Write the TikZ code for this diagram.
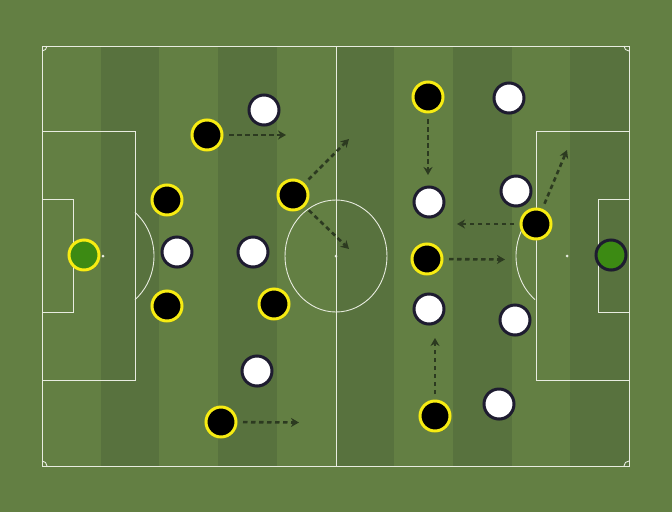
\documentclass[tikz,border=0pt]{standalone}
\usetikzlibrary{arrows.meta,shadows}
\definecolor{grassA}{HTML}{637F43}
\definecolor{grassB}{HTML}{58723E}
\definecolor{lineC}{HTML}{E8ECE0}
\definecolor{arrC}{HTML}{2C3A20}
\definecolor{yel}{HTML}{F7EC12}
\definecolor{navy}{HTML}{1E1C30}
\definecolor{gkg}{HTML}{3C8A13}
\tikzset{
  pline/.style={draw=lineC, line width=0.9pt},
  pl/.style={circle, inner sep=0pt, minimum size=30pt, line width=3pt,
    drop shadow={shadow xshift=0.8pt, shadow yshift=-1.5pt, opacity=0.25, fill=black}},
  blk/.style={pl, fill=black, draw=yel},
  wht/.style={pl, fill=white, draw=navy},
  gkl/.style={pl, fill=gkg, draw=yel},
  gkr/.style={pl, fill=gkg, draw=navy},
  arr/.style={draw=arrC, line width=2.6pt, dash pattern=on 4.5pt off 3.5pt,
    -{Stealth[length=8pt,width=9pt,inset=2.5pt]}, shorten <=5.5pt},
}
\begin{document}
\begin{tikzpicture}[x=1pt,y=-1pt]
\useasboundingbox (0,0) rectangle (672,512);
\fill[grassA] (0,0) rectangle (672,512);
\foreach \i in {1,3,5,7,9}
  \fill[grassB] ({42+\i*58.7},46) rectangle ({42+(\i+1)*58.7},466);
% pitch lines
\draw[pline] (42,46) rectangle (629,466);
\draw[pline] (336,46) -- (336,466);
\draw[pline] (336,256) ellipse [x radius=51, y radius=56];
\draw[pline] (42,131) rectangle (135,380);
\draw[pline] (42,199) rectangle (73,312);
\draw[pline] (629,131) rectangle (536,380);
\draw[pline] (629,199) rectangle (598,312);
\draw[pline] (103,256) ++(-51.14:51 and 56) arc[start angle=-51.14, end angle=51.14, x radius=51, y radius=56];
\draw[pline] (567,256) ++(128.86:51 and 56) arc[start angle=128.86, end angle=231.14, x radius=51, y radius=56];
\fill[lineC] (336,256) circle (1.5pt);
\fill[lineC] (103,256) circle (1.5pt);
\fill[lineC] (567,256) circle (1.5pt);
% corner arcs
\draw[pline] (47,46) arc[start angle=0, end angle=90, radius=5];
\draw[pline] (624,46) arc[start angle=180, end angle=90, radius=5];
\draw[pline] (47,466) arc[start angle=0, end angle=-90, radius=5];
\draw[pline] (624,466) arc[start angle=180, end angle=270, radius=5];
% white team
\node[wht] (w1) at (264,110) {};
\node[wht] (w2) at (177,252) {};
\node[wht] (w3) at (253,252) {};
\node[wht] (w4) at (257,371) {};
\node[wht] (w5) at (509,98) {};
\node[wht] (w6) at (429,202) {};
\node[wht] (w7) at (516,191) {};
\node[wht] (w8) at (429,309) {};
\node[wht] (w9) at (515,320) {};
\node[wht] (w10) at (499,404) {};
\node[gkr] (wg) at (611,255) {};
% black team
\node[gkl] (bg) at (84,255) {};
\node[blk] (b1) at (207,135) {};
\node[blk] (b2) at (167,200) {};
\node[blk] (b3) at (293,195) {};
\node[blk] (b4) at (167,306) {};
\node[blk] (b5) at (274,304) {};
\node[blk] (b6) at (221,422) {};
\node[blk] (b7) at (428,97) {};
\node[blk] (b8) at (427,259) {};
\node[blk] (b9) at (536,224) {};
\node[blk] (b10) at (435,416) {};
% arrow targets
\coordinate (t1) at (286,135);
\coordinate (t2) at (349,139);
\coordinate (t3) at (349,249);
\coordinate (t4) at (299,422.5);
\coordinate (t5) at (428,175);
\coordinate (t6) at (457,224);
\coordinate (t7) at (567,150);
\coordinate (t8) at (505,259.5);
\coordinate (t9) at (435,338);
\draw[arr] (b1) -- (t1);
\draw[arr] (b3) -- (t2);
\draw[arr] (b3) -- (t3);
\draw[arr] (b6) -- (t4);
\draw[arr] (b7) -- (t5);
\draw[arr] (b9) -- (t6);
\draw[arr] (b9) -- (t7);
\draw[arr] (b8) -- (t8);
\draw[arr] (b10) -- (t9);
\end{tikzpicture}
\end{document}
